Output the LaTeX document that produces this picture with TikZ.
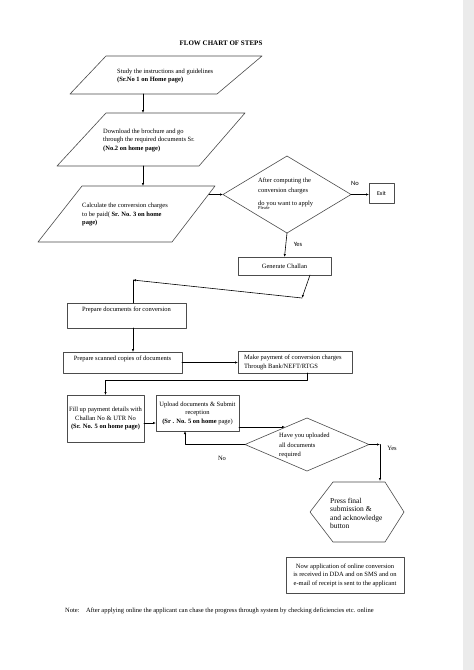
\documentclass[tikz,border=0pt]{standalone}
\usepackage{fontspec}
\setmainfont{Liberation Serif}
\newfontfamily\calfont{Carlito}
\usetikzlibrary{arrows.meta,shapes.geometric}

\begin{document}
\begin{tikzpicture}[x=1pt,y=-1pt,font=\fontsize{6.5}{8.5}\selectfont,line join=round,line cap=round,>={Latex[length=3pt,width=2.4pt]},
  box/.style={draw=black!70,line width=0.6pt,inner sep=0pt,outer sep=0pt},
  txt/.style={inner sep=0pt,align=left},
  link/.style={->,line width=0.6pt},
  sans/.style={font=\calfont\fontsize{6.5}{7}\selectfont,inner sep=0pt}]
	% page and grey strip
	\fill[white] (0,0) rectangle (474,670);
	\fill[black!8] (463,0) rectangle (474,670);
	\useasboundingbox (0,0) rectangle (474,670);
	\node[font=\bfseries\fontsize{7}{8}\selectfont] (title) at (221,43) {FLOW CHART OF STEPS};
	% parallelograms
	\draw[box] (106,56) -- (262,56) -- (217,94) -- (70,94) -- cycle;
	\node[txt,anchor=west] (study) at (117,76) {Study the instructions and guidelines\\\textbf{(Sr.No 1 on Home page)}};
	\draw[box] (106,113) -- (245,113) -- (199,166) -- (57,166) -- cycle;
	\node[txt,anchor=west] (brochure) at (103,140) {Download the brochure and go\\through the required documents Sr.\\\textbf{(No.2 on home page)}};
	\draw[box] (82,186) -- (215,186) -- (172,242) -- (38,242) -- cycle;
	\node[txt,anchor=west] (calc) at (82,214.5) {Calculate the conversion charges\\to be paid( \textbf{Sr. No. 3 on home}\\\textbf{page)}};
	\coordinate (p1b) at (143,94);
	\coordinate (p2t) at (143,113);
	\coordinate (p2b) at (143,166);
	\coordinate (p3t) at (143,186);
	\coordinate (p3r) at (209,194.5);
	\draw[link] (p1b) -- (p2t);
	\draw[link] (p2b) -- (p3t);
	% first decision
	\node[box,diamond,minimum width=128,minimum height=77] (apply) at (287,194.5) {};
	\node[txt,anchor=west,font=\fontsize{6.5}{10}\selectfont] (applytxt) at (258,192) {After computing the\\conversion charges\\[3pt]do you want to apply};
	\node[txt,anchor=west,font=\fontsize{4.5}{5}\selectfont] (please) at (258,207.5) {Please};
	\draw[link] (p3r) -- (apply.west);
	\node[box,minimum width=25,minimum height=20,font=\calfont\fontsize{6}{7}\selectfont] (exit) at (381.5,193) {Exit};
	\draw[link] (apply.east) -- (exit.west |- apply.east);
	\node[sans] (nolbl) at (355,183) {No};
	\node[box,minimum width=93,minimum height=18] (challan) at (284.5,266) {Generate Challan};
	\draw[link] (apply.south) -- (challan.north);
	\node[sans] (yeslbl) at (298,244) {Yes};
	% documents
	\node[box,minimum width=119,minimum height=25] (prepdoc) at (126.5,315.5) {};
	\node[txt] (prepdoctxt) at (126.5,310) {Prepare documents for conversion};
	\coordinate (chout) at (310,275);
	\coordinate (bend1) at (302,298);
	\coordinate (bend2) at (133,280);
	\draw[link] (chout) -- (bend1);
	\draw[link] (bend1) -- (bend2);
	\draw[line width=0.6pt] (bend2) -- (bend2 |- prepdoc.north);
	\node[box,minimum width=119,minimum height=21] (scan) at (122.5,362.5) {};
	\node[txt] (scantxt) at (122.5,359) {Prepare scanned copies of documents};
	\draw[link] (prepdoc.south -| bend2) -- (scan.north -| bend2);
	\node[box,minimum width=114,minimum height=22] (pay) at (295,362) {};
	\node[txt,anchor=west] (paytxt) at (244,362.5) {Make payment of conversion charges\\Through Bank/NEFT/RTGS};
	\draw[link] (scan.east) -- (pay.west |- scan.east);
	% payment details and upload
	\node[box,minimum width=77,minimum height=47,align=center] (fill) at (105.5,418.5) {Fill up payment details with\\Challan No \& UTR No\\\textbf{(Sr. No. 5 on home page)}};
	\coordinate (payx) at (307,380);
	\draw[link] (pay.south -| payx) -- (payx) -- (payx -| fill.north) -- (fill.north);
	\node[box,minimum width=83,minimum height=36,align=center] (upload) at (197.5,413) {Upload documents \& Submit\\reception\\\textbf{(Sr . No. 5 on home} page)};
	\coordinate (fillout) at (144,423);
	\draw[link] (fillout) -- (upload.west |- fillout);
	% second decision
	\node[box,diamond,minimum width=124,minimum height=53] (check) at (307,444.5) {};
	\node[txt,anchor=west,font=\fontsize{6.5}{9.5}\selectfont] (checktxt) at (279,445.5) {Have you uploaded\\all documents\\required};
	\coordinate (upout) at (239,427);
	\draw[link] (upout) -- (upout -| check.142);
	\coordinate (noturn) at (185,444.5);
	\draw[link] (check.west) -- (noturn) -- (noturn |- upload.south);
	\node[txt] (nochk) at (222,458) {No};
	\coordinate (yesturn) at (380,444.5);
	\coordinate (hextop) at (380,481);
	\draw[link] (check.east) -- (yesturn);
	\draw[link] (yesturn) -- (hextop);
	\node[txt] (yeschk) at (392,448) {Yes};
	% final submission
	\draw[box] (333,482) -- (385,482) -- (404,512) -- (385,542) -- (333,542) -- (310,512) -- cycle;
	\node[txt,anchor=west,font=\fontsize{7.5}{8.4}\selectfont] (press) at (330,513.5) {Press final\\submission \&\\and acknowledge\\button};
	\node[box,minimum width=118,minimum height=36,align=center] (done) at (345,575) {Now application of online conversion\\is received in DDA and on SMS and on\\e-mail of receipt is sent to the applicant};
	\node[txt,anchor=west] (note) at (65,611) {Note:\quad After applying online the applicant can chase the progress through system by checking deficiencies etc. online};
\end{tikzpicture}
\end{document}
